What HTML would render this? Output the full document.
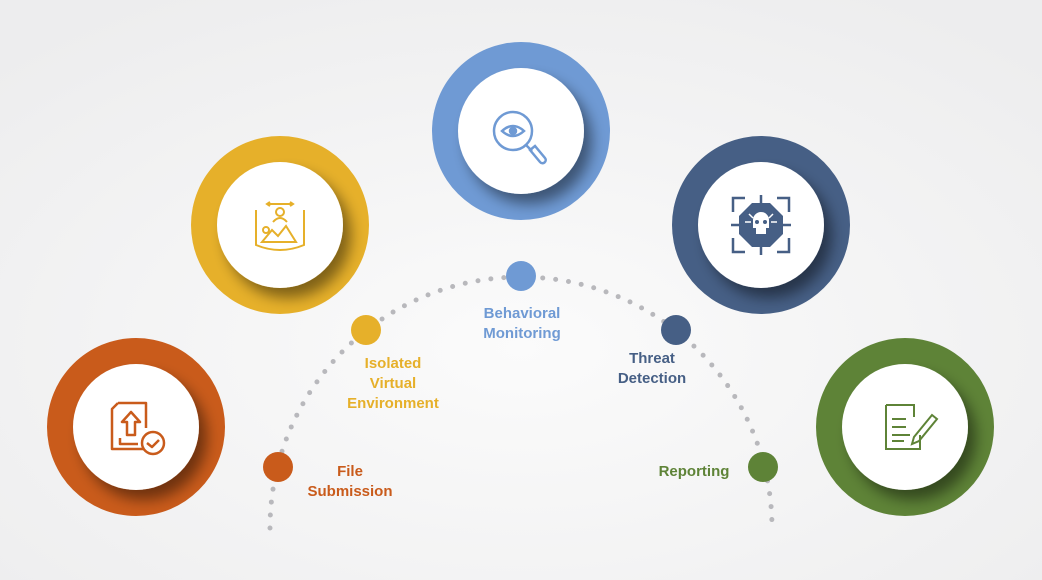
<!DOCTYPE html>
<html><head><meta charset="utf-8"><style>
html,body{margin:0;padding:0;width:1042px;height:580px;overflow:hidden;background:#f4f4f5}
text{font-family:"Liberation Sans",sans-serif;font-weight:bold;font-size:15px}
</style></head><body>
<svg width="1042" height="580" viewBox="0 0 1042 580" xmlns="http://www.w3.org/2000/svg">
<defs>
<radialGradient id="bg" cx="0.5" cy="0.6" r="0.7"><stop offset="0" stop-color="#fbfbfb"/><stop offset="1" stop-color="#ededee"/></radialGradient>
<filter id="sh" x="-30%" y="-30%" width="160%" height="160%"><feGaussianBlur in="SourceAlpha" stdDeviation="7"/><feOffset dx="8" dy="10"/><feComponentTransfer><feFuncA type="linear" slope="0.45"/></feComponentTransfer><feMerge><feMergeNode/><feMergeNode in="SourceGraphic"/></feMerge></filter>
</defs>
<rect width="1042" height="580" fill="url(#bg)"/>
<path d="M270 528 A251 251 0 0 1 772 528" fill="none" stroke="#b8b8bc" stroke-width="5" stroke-linecap="round" stroke-dasharray="0 13"/>
<g>
<circle cx="136" cy="427" r="89" fill="#c95b1b"/><circle cx="136" cy="427" r="63" fill="#fff" filter="url(#sh)"/>
<circle cx="280" cy="225" r="89" fill="#e6b02a"/><circle cx="280" cy="225" r="63" fill="#fff" filter="url(#sh)"/>
<circle cx="521" cy="131" r="89" fill="#6f9ad4"/><circle cx="521" cy="131" r="63" fill="#fff" filter="url(#sh)"/>
<circle cx="761" cy="225" r="89" fill="#465f85"/><circle cx="761" cy="225" r="63" fill="#fff" filter="url(#sh)"/>
<circle cx="905" cy="427" r="89" fill="#5e8337"/><circle cx="905" cy="427" r="63" fill="#fff" filter="url(#sh)"/>
</g>
<!-- icons -->
<g fill="none" stroke="#c95b1b" stroke-width="2.5" stroke-linejoin="round">
<path d="M118 403 h28 v25 M118 403 l-6 6 v40 h32"/><path d="M131 412 l-9 10 h5 v13 h8 v-13 h5 z"/><path d="M120 438 v6 h18"/><circle cx="153" cy="443" r="11"/><path d="M147 443 l5 4 l7 -7"/>
</g>
<g fill="none" stroke="#e6b02a" stroke-width="2">
<path d="M256 210 v35 q24 10 48 0 v-35"/><path d="M262 242 l10 -12 l6 6 l8 -10 l10 16 z"/><circle cx="266" cy="230" r="3"/><circle cx="280" cy="212" r="4"/><path d="M273 222 q7 -8 14 0"/><path d="M268 204 h24 M270 202 l-3 2 l3 2 M290 202 l3 2 l-3 2"/>
</g>
<g fill="none" stroke="#6f9ad4" stroke-width="2.5">
<circle cx="513" cy="131" r="19"/><path d="M526 145 l6 6 M530 150 l10 12 a3 3 0 0 0 5 -4 l-10 -12 z"/><path d="M502 131 q11 -10 22 0 q-11 10 -22 0 z"/><circle cx="513" cy="131" r="3" fill="#6f9ad4"/>
</g>
<g>
<g fill="none" stroke="#465f85" stroke-width="2.5"><path d="M733 212 v-14 h12 M777 198 h12 v14 M789 238 v14 h-12 M745 252 h-12 v-14"/><path d="M761 195 v10 M761 245 v10 M731 225 h10 M781 225 h10"/></g>
<polygon points="752,203 770,203 783,216 783,234 770,247 752,247 739,234 739,216" fill="#465f85"/>
<path d="M753 220 a8 8 0 0 1 16 0 v8 h-3 v6 h-10 v-6 h-3 z" fill="#fff"/><circle cx="757" cy="222" r="2" fill="#465f85"/><circle cx="765" cy="222" r="2" fill="#465f85"/>
<path d="M745 222 h6 M771 222 h6 M749 214 l4 4 M773 214 l-4 4" stroke="#fff" stroke-width="1.5"/>
</g>
<g fill="none" stroke="#5e8337" stroke-width="2"><path d="M886 405 h28 v12 M886 405 v44 h34 v-14"/><path d="M892 419 h14 M892 427 h14 M892 435 h18 M892 441 h12"/><path d="M914 437 l18 -22 l5 4 l-18 22 l-7 3 z"/></g>
<!-- dots -->
<circle cx="278" cy="467" r="15" fill="#c95b1b"/>
<circle cx="366" cy="330" r="15" fill="#e6b02a"/>
<circle cx="521" cy="276" r="15" fill="#6f9ad4"/>
<circle cx="676" cy="330" r="15" fill="#465f85"/>
<circle cx="763" cy="467" r="15" fill="#5e8337"/>
<!-- labels -->
<text x="350" y="476" fill="#c95b1b" text-anchor="middle">File</text>
<text x="350" y="496" fill="#c95b1b" text-anchor="middle">Submission</text>
<text x="393" y="368" fill="#e6b02a" text-anchor="middle">Isolated</text>
<text x="393" y="388" fill="#e6b02a" text-anchor="middle">Virtual</text>
<text x="393" y="408" fill="#e6b02a" text-anchor="middle">Environment</text>
<text x="522" y="318" fill="#6f9ad4" text-anchor="middle">Behavioral</text>
<text x="522" y="338" fill="#6f9ad4" text-anchor="middle">Monitoring</text>
<text x="652" y="363" fill="#465f85" text-anchor="middle">Threat</text>
<text x="652" y="383" fill="#465f85" text-anchor="middle">Detection</text>
<text x="694" y="476" fill="#5e8337" text-anchor="middle">Reporting</text>
</svg>
</body></html>
